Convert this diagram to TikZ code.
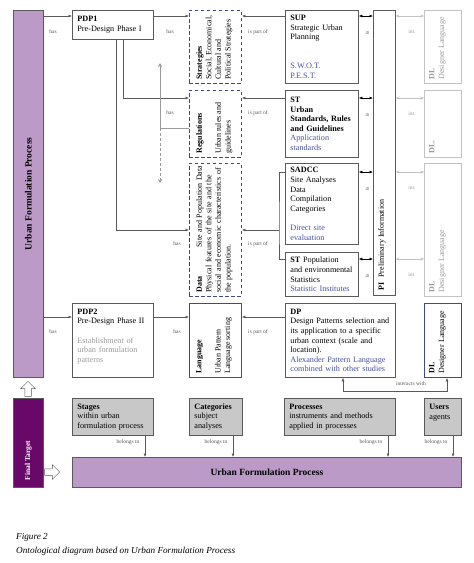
\documentclass[tikz,border=0pt]{standalone}
\usepackage{fontspec}
\setmainfont{Liberation Serif}
\usetikzlibrary{arrows.meta,shapes.arrows}
\definecolor{ufplight}{RGB}{187,154,200}
\definecolor{ufpdark}{RGB}{104,8,104}
\definecolor{boxgray}{RGB}{200,200,200}
\definecolor{edgegray}{RGB}{90,90,90}
\definecolor{dashblue}{RGB}{62,74,138}
\definecolor{textblue}{RGB}{72,84,160}
\definecolor{fadegray}{RGB}{155,155,155}
\definecolor{palegray}{RGB}{195,195,195}
\begin{document}
\begin{tikzpicture}[x=1pt,y=-1pt,
    box/.style={draw=edgegray,line width=0.8pt,anchor=north west,inner xsep=5pt,inner ysep=0pt,align=left,font=\fontsize{8.2}{9.6}\selectfont},
    graybox/.style={box,fill=boxgray},
    plainbox/.style={draw=edgegray,line width=0.8pt,anchor=north west,inner sep=0pt},
    dashbox/.style={draw=dashblue,line width=0.9pt,dash pattern=on 3.5pt off 2.5pt,anchor=north west,inner sep=0pt},
    bluebox/.style={draw=dashblue,line width=0.9pt,anchor=north west,inner sep=0pt},
    palebox/.style={draw=palegray,line width=0.7pt,anchor=north west,inner sep=0pt},
    rtxt/.style={rotate=90,anchor=north west,align=left,inner sep=0pt,font=\fontsize{8}{9.6}\selectfont},
    conn/.style={draw=edgegray,line width=0.6pt,-{Latex[length=3.5pt,width=3pt]}},
    link/.style={draw=edgegray,line width=0.6pt},
    twoway/.style={draw=black,line width=0.6pt,{Latex[length=3.5pt,width=3pt]}-{Latex[length=3.5pt,width=3pt]}},
    intway/.style={draw=palegray,line width=0.5pt,{Stealth[length=3.5pt,width=3pt]}-{Stealth[length=3.5pt,width=3pt]}},
    lbl/.style={inner sep=0pt,text=edgegray,font=\fontsize{5.5}{6}\selectfont},
    hollow/.style={single arrow,draw=edgegray,fill=white,line width=0.5pt,inner sep=3pt,single arrow head extend=4pt,minimum height=15pt}
  ]
  \fill[white] (0,0) rectangle (474,563);
  \useasboundingbox (0,0) rectangle (474,563);

  % process bars
  \node[plainbox,fill=ufplight,minimum width=30pt,minimum height=367pt] (ufp) at (13,10) {};
  \node[rotate=90,font=\bfseries\fontsize{9.5}{11}\selectfont] (ufptitle) at (ufp.center) {Urban Formulation Process};
  \node[plainbox,fill=ufpdark,minimum width=30pt,minimum height=89pt] (ft) at (13,398) {};
  \node[rotate=90,anchor=west,text=white,font=\bfseries\fontsize{7.5}{9}\selectfont] (fttitle) at ([yshift=4pt]ft.south) {Final Target};
  \node[box,fill=ufplight,minimum width=389pt,minimum height=30pt,font=\bfseries\fontsize{9.5}{11}\selectfont] (bar) at (72,457) {Urban Formulation Process};
  \node[hollow,rotate=90] (uparr) at (28,390.5) {};
  \node[hollow] (rtarr) at (50.5,472) {};

  % pre-design phases
  \node[box,text width=71pt,minimum height=29pt] (pdp1) at (72,10) {\textbf{PDP1}\\Pre-Design Phase I};
  \node[box,text width=71pt,minimum height=74pt] (pdp2) at (72,303) {\textbf{PDP2}\\Pre-Design Phase II\\[9.6pt]\color{fadegray}Establishment of\\urban formulation\\patterns\\~};

  % categories
  \node[dashbox,minimum width=52pt,minimum height=73pt] (strat) at (189,10) {};
  \node[dashbox,minimum width=52pt,minimum height=67pt] (reg) at (189,90) {};
  \node[dashbox,minimum width=52pt,minimum height=133pt] (data) at (189,163) {};
  \node[bluebox,minimum width=52pt,minimum height=74pt] (lang) at (189,303) {};
  \node[rtxt] (strattxt) at ([xshift=7pt,yshift=4pt]strat.south west) {\textbf{Strategies}\\Social, Economical,\\Cultural and\\Political Strategies};
  \node[rtxt] (regtxt) at ([xshift=7pt,yshift=4pt]reg.south west) {\textbf{Regulations}\\[9.6pt]Urban rules and\\guidelines};
  \node[rtxt,text width=127pt] (datatxt) at ([xshift=7pt,yshift=4pt]data.south west) {\textbf{Data}\hfill Site and Population Data\\Physical features of the site and the\\social and economic characteristics of\\the population.};
  \node[rtxt] (langtxt) at ([xshift=7pt,yshift=4pt]lang.south west) {\textbf{Language}\\[9.6pt]Urban Pattern\\Language sorting};

  % sources
  \node[box,text width=63pt,minimum height=73pt] (sup) at (285,10) {\textbf{SUP}\\Strategic Urban\\Planning\\[19.2pt]\color{textblue}S.W.O.T.\\P.E.S.T.};
  \node[box,text width=63pt,minimum height=67pt] (st) at (285,90) {\textbf{ST}\\\textbf{Urban}\\\textbf{Standards, Rules}\\\textbf{and Guidelines}\\\color{textblue}Application\\standards};
  \node[box,text width=63pt,minimum height=81pt] (sadcc) at (285,163) {\textbf{SADCC}\\Site Analyses\\Data\\Compilation\\Categories\\[9.6pt]\color{textblue}Direct site\\evaluation};
  \node[box,text width=63pt,minimum height=44pt] (stpop) at (285,252) {\textbf{ST} Population\\and environmental\\Statistics\\\color{textblue}Statistic Institutes};
  \node[box,text width=100pt,minimum height=74pt] (dp) at (285,303) {\textbf{DP}\\Design Patterns selection and\\its application to a specific\\urban context (scale and\\location).\\\color{textblue}Alexander Pattern Language\\combined with other studies};
  \node[plainbox,minimum width=22pt,minimum height=285pt] (pi) at (373,10) {};
  \node[rtxt] (pitxt) at ([xshift=5pt,yshift=5pt]pi.south west) {\textbf{PI}\hspace{5pt}Preliminary Information};

  % designer language
  \node[palebox,minimum width=37pt,minimum height=73pt] (dl1) at (424,10) {};
  \node[palebox,minimum width=37pt,minimum height=67pt] (dl2) at (424,90) {};
  \node[palebox,minimum width=37pt,minimum height=133pt] (dl3) at (424,163) {};
  \node[bluebox,minimum width=37pt,minimum height=74pt] (dl4) at (424,303) {};
  \node[rtxt,text=fadegray] (dl1txt) at ([xshift=5pt,yshift=4pt]dl1.south west) {\textbf{DL}\\Designer Language};
  \node[rtxt,text=fadegray] (dl2txt) at ([xshift=5pt,yshift=4pt]dl2.south west) {\textbf{DL.}};
  \node[rtxt,text=fadegray] (dl3txt) at ([xshift=5pt,yshift=4pt]dl3.south west) {\textbf{DL}\\Designer Language};
  \node[rtxt] (dl4txt) at ([xshift=5pt,yshift=4pt]dl4.south west) {\textbf{DL}\\Designer Language};

  % bottom row
  \node[graybox,text width=71pt,minimum height=37pt] (stages) at (72,398) {\textbf{Stages}\\within urban\\formulation process};
  \node[graybox,text width=43pt,minimum height=37pt] (cat) at (189,398) {\textbf{Categories}\\subject\\analyses};
  \node[graybox,text width=101pt,minimum height=37pt] (proc) at (284,398) {\textbf{Processes}\\instruments and methods\\applied in processes};
  \node[graybox,text width=27pt,minimum height=37pt] (users) at (424,398) {\textbf{Users}\\agents\\~};

  % has
  \draw[conn] (ufp.east |- 0,16) -- (pdp1.west |- 0,16);
  \node[lbl] (has1) at (53,32) {has};
  \draw[conn] (ufp.east |- 0,317) -- (pdp2.west |- 0,317);
  \node[lbl] (has2) at (53,332) {has};
  \draw[conn] (pdp1.east |- 0,16) -- (strat.west |- 0,16);
  \node[lbl] (has3) at (170,32) {has};
  \draw[conn] (pdp1.south -| 123,0) |- (reg.west |- 0,98);
  \node[lbl] (has4) at (170,113) {has};
  \draw[conn] (pdp1.south -| 116,0) |- (data.west |- 0,230);
  \node[lbl] (has5) at (177,244) {has};
  \draw[conn] (pdp2.east |- 0,317) -- (lang.west |- 0,317);
  \node[lbl] (has6) at (177,332) {has};

  % regulations fork
  \coordinate (fork) at (160,128);
  \coordinate (forkup) at (160,63);
  \coordinate (forkdown) at (160,183);
  \draw[link,draw=fadegray] (reg.west |- fork) -- (fork);
  \draw[draw=fadegray,line width=0.6pt,-{Stealth[length=4pt,width=4pt]}] (fork) -- (forkup);
  \draw[draw=fadegray,line width=0.6pt,dash pattern=on 3pt off 2pt,-{Stealth[length=4pt,width=4pt]}] (fork) -- (forkdown);

  % is part of
  \draw[conn] (sup.west |- 0,16) -- (strat.east |- 0,16);
  \node[lbl] (part1) at (258,32) {is part of};
  \draw[conn] (st.west |- 0,98) -- (reg.east |- 0,98);
  \node[lbl] (part2) at (258,113) {is part of};
  \coordinate (brace) at (279,230);
  \draw[link] (sadcc.west |- 0,172) -| (brace) |- (stpop.west |- 0,259);
  \draw[conn] (brace) -- (data.east |- brace);
  \node[lbl] (part3) at (258,244) {is part of};
  \draw[conn] (dp.west |- 0,317) -- (lang.east |- 0,317);
  \node[lbl] (part4) at (258,332) {is part of};

  % is / int.
  \foreach \src/\yy/\k in {sup/16/1,st/98/2,sadcc/172/3,stpop/259/4}{
    \draw[twoway] (\src.east |- 0,\yy) -- (pi.west |- 0,\yy);
    \node[lbl,rotate=90] (is\k) at (367,\yy+17) {is};
  }
  \foreach \dst/\yy/\k in {dl1/16/1,dl2/98/2,dl3/172/3,dl3/259/4}{
    \draw[intway] (pi.east |- 0,\yy) -- (\dst.west |- 0,\yy);
    \node[lbl,text=fadegray] (int\k) at (412,\yy+16) {int.};
  }

  % interacts with
  \coordinate (dpfoot) at (343,391);
  \coordinate (dlfoot) at (447,391);
  \draw[twoway,draw=edgegray] (dp.south -| dpfoot) -- (dpfoot) -- (dlfoot) -- (dl4.south -| dlfoot);
  \node[lbl] (inter) at (411,384) {interacts with};

  % belongs to
  \foreach \src/\xx/\k in {stages/145/1,cat/233/2,proc/388/3,users/453/4}{
    \draw[conn] (\src.south -| \xx,0) -- (bar.north -| \xx,0);
    \node[lbl] (belong\k) at (\xx-17,442) {belongs to};
  }

  % caption
  \node[anchor=west,inner sep=0pt,font=\itshape\fontsize{9.2}{11}\selectfont] (figno) at (16,537) {Figure 2};
  \node[anchor=west,inner sep=0pt,font=\itshape\fontsize{9.2}{11}\selectfont] (figcap) at (16,551) {Ontological diagram based on Urban Formulation Process};
\end{tikzpicture}
\end{document}
